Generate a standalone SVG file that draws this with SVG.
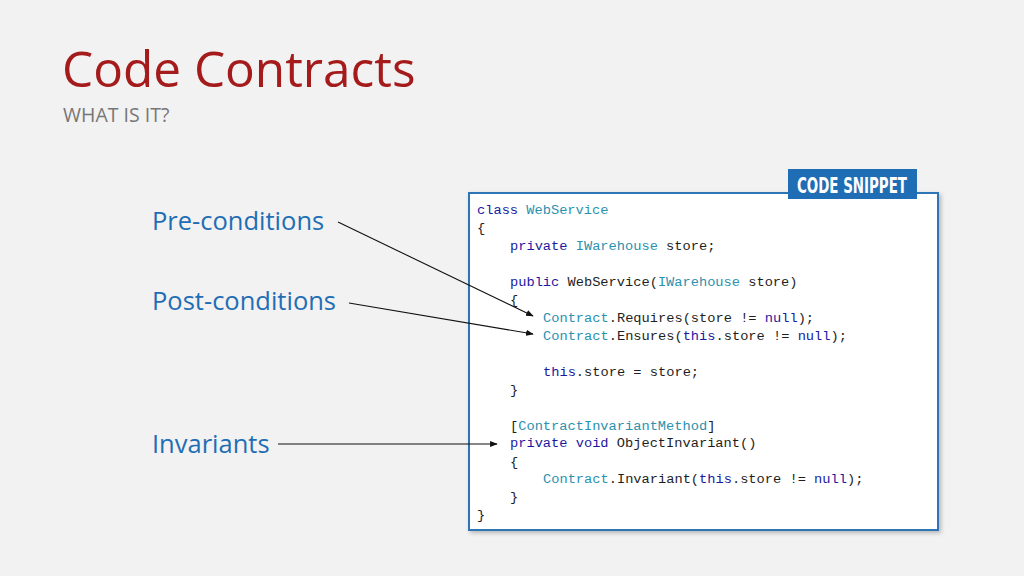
<svg xmlns="http://www.w3.org/2000/svg" width="1024" height="576" viewBox="0 0 1024 576">
<style>
.lbl{font-family:"Open Sans","Liberation Sans",sans-serif;font-size:25.5px;fill:#1F6EB5}
.code{font-family:"Liberation Mono",monospace;font-size:13.7px;fill:#1e1e1e;white-space:pre}
.k{fill:#1a1aa0}.t{fill:#2B91AF}
.arr{stroke:#111;stroke-width:1.1;fill:none;marker-end:url(#ah)}
</style>
<defs>
<marker id="ah" viewBox="0 0 10 10" refX="9" refY="5" markerWidth="7" markerHeight="7" orient="auto"><path d="M0,1 L10,5 L0,9 z" fill="#111"/></marker>
<filter id="sh" x="-5%" y="-5%" width="110%" height="110%"><feDropShadow dx="2" dy="2" stdDeviation="2" flood-opacity="0.25"/></filter>
</defs>
<rect width="1024" height="576" fill="#f2f2f2"/>
<text x="62" y="87" font-family="'Open Sans','Liberation Sans',sans-serif" font-size="49.5" fill="#A51B1B">Code Contracts</text>
<text x="63" y="122" font-family="'Open Sans','Liberation Sans',sans-serif" font-size="19.5" fill="#777">WHAT IS IT?</text>
<g id="pre"><text class="lbl" x="152" y="230">Pre-conditions</text></g>
<g id="post"><text class="lbl" x="152" y="310">Post-conditions</text></g>
<g id="inv"><text class="lbl" x="152" y="453">Invariants</text></g>
<g id="snippet">
<rect x="469" y="193" width="469" height="337" fill="#fff" stroke="#2E75B6" stroke-width="2" filter="url(#sh)"/>
<rect x="788" y="169" width="129" height="30" fill="#1F6EB5"/>
<text x="852" y="193" text-anchor="middle" font-family="'Liberation Sans Narrow','DejaVu Sans Condensed',sans-serif" font-weight="bold" font-size="21" fill="#fff" textLength="110" lengthAdjust="spacingAndGlyphs">CODE SNIPPET</text>
<text class="code" x="477" y="214"><tspan class="k">class</tspan> <tspan class="t">WebService</tspan></text>
<text class="code" x="477" y="232">{</text>
<text class="code" x="510" y="250"><tspan class="k">private</tspan> <tspan class="t">IWarehouse</tspan> store;</text>
<text class="code" x="510" y="286"><tspan class="k">public</tspan> WebService(<tspan class="t">IWarehouse</tspan> store)</text>
<text class="code" x="510" y="304">{</text>
<text class="code" x="543" y="322"><tspan class="t">Contract</tspan>.Requires(store != <tspan class="k">null</tspan>);</text>
<text class="code" x="543" y="340"><tspan class="t">Contract</tspan>.Ensures(<tspan class="k">this</tspan>.store != <tspan class="k">null</tspan>);</text>
<text class="code" x="543" y="376"><tspan class="k">this</tspan>.store = store;</text>
<text class="code" x="510" y="394">}</text>
<text class="code" x="510" y="430">[<tspan class="t">ContractInvariantMethod</tspan>]</text>
<text class="code" x="510" y="447"><tspan class="k">private</tspan> <tspan class="k">void</tspan> ObjectInvariant()</text>
<text class="code" x="510" y="466">{</text>
<text class="code" x="543" y="483"><tspan class="t">Contract</tspan>.Invariant(<tspan class="k">this</tspan>.store != <tspan class="k">null</tspan>);</text>
<text class="code" x="510" y="501">}</text>
<text class="code" x="477" y="519">}</text>
</g>
<g id="connectors">
<line class="arr" x1="338" y1="222" x2="533" y2="316"/>
<line class="arr" x1="349" y1="303" x2="533" y2="334"/>
<line class="arr" x1="278" y1="444" x2="497" y2="444"/>
</g>
</svg>
